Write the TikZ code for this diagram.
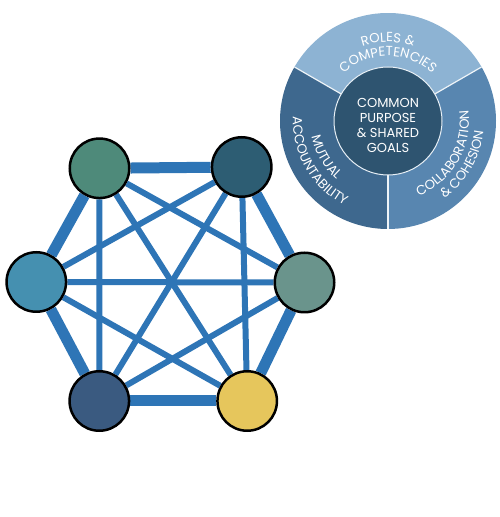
\documentclass[tikz,border=0pt]{standalone}
\usepackage{fontspec}
\newfontfamily\wheelfont{Poppins}
\usetikzlibrary{decorations.text}
\usetikzlibrary{backgrounds}
\usetikzlibrary{calc}

\definecolor{linkblue}{HTML}{2E75B6}
\definecolor{tealgreen}{HTML}{4E8A7A}
\definecolor{darkteal}{HTML}{2D5D73}
\definecolor{skyteal}{HTML}{4590B0}
\definecolor{sagegrey}{HTML}{6A948C}
\definecolor{navyblue}{HTML}{3A5A80}
\definecolor{mustard}{HTML}{E6C65C}
\definecolor{rolesblue}{HTML}{8DB3D3}
\definecolor{mutualblue}{HTML}{3E688E}
\definecolor{collabblue}{HTML}{5886B0}
\definecolor{goalsblue}{HTML}{2E5470}

\begin{document}
\begin{tikzpicture}[x=1pt,y=1pt]

\tikzset{member/.style={circle,draw=black,line width=2.5pt,minimum size=59.5pt,inner sep=0pt}}
\tikzset{rim/.style={linkblue,line width=11pt}}
\tikzset{link/.style={linkblue,line width=6pt}}
\tikzset{arctext/.style={decoration={text along path,text align=center,text color=white,
  text={|\wheelfont\fontsize{13.2}{15}\selectfont|#1}},decorate}}

\useasboundingbox (0,0) rectangle (500,517);

%team members
\node[member,fill=tealgreen] (tl) at (99.5,348.7) {};
\node[member,fill=darkteal] (tr) at (241.7,350) {};
\node[member,fill=skyteal] (l) at (36.3,235) {};
\node[member,fill=sagegrey] (r) at (304.5,234.5) {};
\node[member,fill=navyblue] (bl) at (99.3,116) {};
\node[member,fill=mustard] (br) at (247.2,116) {};

%links
\begin{scope}[on background layer]
\draw[rim] (tl)--(tr);
\draw[rim] (tr)--(r);
\draw[rim] (r)--(br);
\draw[rim] (br)--(bl);
\draw[rim] (bl)--(l);
\draw[rim] (l)--(tl);
\draw[link] (tl)--(bl);
\draw[link] (tr)--(br);
\draw[link] (l)--(r);
\draw[link] (tl)--(r);
\draw[link] (tl)--(br);
\draw[link] (tr)--(l);
\draw[link] (tr)--(bl);
\draw[link] (l)--(br);
\draw[link] (bl)--(r);
\end{scope}

%wheel
\coordinate (hub) at (388,396);
\fill[rolesblue] (hub) -- ++(150:108) arc[start angle=150,end angle=30,radius=108] -- cycle;
\fill[mutualblue] (hub) -- ++(150:108) arc[start angle=150,end angle=270,radius=108] -- cycle;
\fill[collabblue] (hub) -- ++(270:108) arc[start angle=270,end angle=390,radius=108] -- cycle;
\foreach \a in {30,150,270}
  \draw[white!85!rolesblue,line width=1.2pt] ($(hub)+(\a:54)$) -- ($(hub)+(\a:108)$);

%centre
\filldraw[fill=goalsblue,draw=white!80!rolesblue,line width=1pt] (hub) circle (54);
\node[align=center,text=white,font=\wheelfont\fontsize{13}{15}\selectfont] (goals) at (388,391.5)
  {COMMON\\PURPOSE\\\& SHARED\\GOALS};

%wheel text
\path[arctext={ROLES {\&}}] ($(hub)+(150:79)$) arc[start angle=150,end angle=30,radius=79];
\path[arctext=COMPETENCIES] ($(hub)+(150:65)$) arc[start angle=150,end angle=30,radius=65];
\path[arctext=MUTUAL] ($(hub)+(150:78)$) arc[start angle=150,end angle=270,radius=78];
\path[arctext=ACCOUNTABILITY] ($(hub)+(150:95)$) arc[start angle=150,end angle=270,radius=95];
\path[arctext=COLLABORATION] ($(hub)+(-90:81)$) arc[start angle=-90,end angle=30,radius=81];
\path[arctext={{\&} COHESION}] ($(hub)+(-90:96)$) arc[start angle=-90,end angle=30,radius=96];

\end{tikzpicture}
\end{document}
